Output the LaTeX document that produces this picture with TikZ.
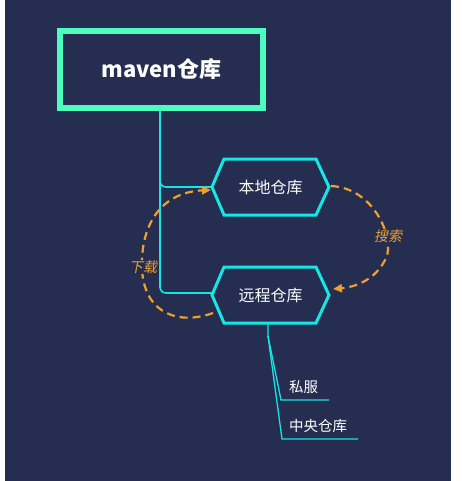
\documentclass[tikz,border=0pt]{standalone}
\usepackage{fontspec}
\setmainfont{Noto Sans CJK SC}
\newfontfamily\cjkit[FakeSlant=0.2]{Noto Sans CJK SC}
\usetikzlibrary{shapes.geometric,arrows.meta}
\definecolor{bg}{HTML}{252D50}
\definecolor{mint}{HTML}{4DFDC0}
\definecolor{cy}{HTML}{16E6E4}
\definecolor{org}{HTML}{EEA02E}
\tikzset{
  rootbox/.style={draw=mint, line width=5.5pt, fill=bg, minimum width=203pt, minimum height=77pt, inner sep=0pt, text=white, font=\bfseries\fontsize{22}{26}\selectfont},
  hexline/.style={draw=cy, line width=3pt, fill=bg},
  hextext/.style={text=white, font=\fontsize{16}{19}\selectfont, inner sep=0pt},
  trunk/.style={draw=cy, line width=2.8pt},
  branch/.style={draw=cy, line width=1.6pt, rounded corners=6pt},
  leaf/.style={draw=cy, line width=1.3pt},
  leaflabel/.style={text=white, font=\fontsize{14.5}{17}\selectfont, inner sep=1pt},
  dashline/.style={draw=org, line width=2.2pt, dash pattern=on 8pt off 5pt, -{Triangle[length=9pt,width=8pt]}},
  dashlabel/.style={text=org, font=\cjkit\fontsize{14}{16}\selectfont, fill=bg, inner sep=1pt}
}
\begin{document}
\begin{tikzpicture}[x=1pt,y=-1pt]
\useasboundingbox (0,0) rectangle (462,481);
\fill[bg] (5,0) rectangle (451,481);
% trunk
\coordinate (t0) at (160,108);
\coordinate (b1) at (160,187);
\coordinate (b2) at (160,293);
\draw[trunk] (t0) -- (160,285);
\draw[branch] (160,170) -- (b1) -- (212,187);
\draw[branch] (160,280) -- (b2) -- (212,293);
% root
\node[rootbox] (root) at (161.5,69.5) {maven仓库};
% hexagons
\draw[hexline] (212,187) -- (224,159) -- (316,159) -- (329,187) -- (316,215) -- (224,215) -- cycle;
\node[hextext] (local) at (270.5,187) {本地仓库};
\draw[hexline] (212,295) -- (224,267) -- (316,267) -- (329,295) -- (316,323) -- (224,323) -- cycle;
\node[hextext] (remote) at (270.5,295) {远程仓库};
\coordinate (localE) at (331,186);
\coordinate (remoteE) at (333,289);
\coordinate (remoteW) at (213,313);
\coordinate (localW) at (211,190);
% leaves
\coordinate (rb) at (268,324);
\coordinate (rs) at (268,336);
\coordinate (l1) at (281,400);
\coordinate (l2) at (282,439);
\draw[leaf] (rb) -- (rs) -- (l1) -- (329,400);
\draw[leaf] (rs) -- (l2) -- (358,439);
\node[leaflabel, anchor=south west] (sf) at (288,395) {私服};
\node[leaflabel, anchor=south west] (zy) at (288,434) {中央仓库};
% dashed arcs
\draw[dashline] (localE) .. controls (375,188) and (395,240) .. (386,258) .. controls (376,280) and (355,287) .. (remoteE);
\draw[dashline] (remoteW) .. controls (180,325) and (145,315) .. (142,270) .. controls (140,220) and (165,192) .. (localW);
\node[dashlabel] (ss) at (388,236) {搜索};
\node[dashlabel] (xz) at (143,267) {下载};
\end{tikzpicture}
\end{document}
